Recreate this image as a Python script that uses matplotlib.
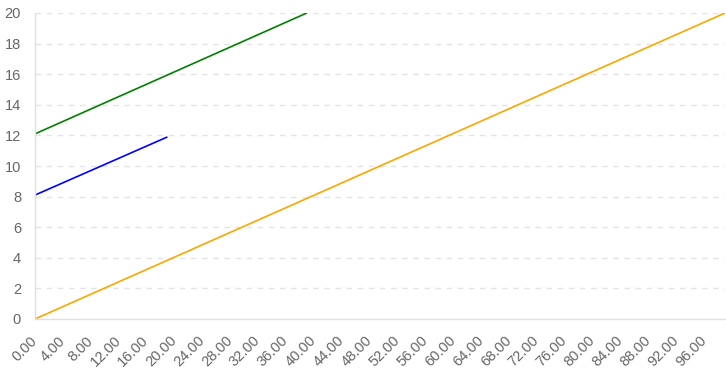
import matplotlib
matplotlib.use("Agg")
import matplotlib.pyplot as plt
import numpy as np

plt.rcParams['font.family'] = ['Liberation Sans', 'DejaVu Sans']

# Data (endpoints of the straight-line series)
orange_x = [0, 99]
orange_y = [0, 20]
green_x = [0, 39]
green_y = [12.1, 20]
blue_x = [0, 19]
blue_y = [8.1, 11.9]

x_ticks = list(range(0, 100, 4))
x_tick_labels = [f"{v:.2f}" for v in x_ticks]
y_ticks = list(range(0, 21, 2))

fig = plt.figure(figsize=(7.26, 3.77), dpi=100)
ax = fig.add_axes([35/726, 1 - 319/377, (725 - 35)/726, (319 - 13)/377])

ax.plot(orange_x, orange_y, color='orange', lw=1.2, solid_capstyle='butt')
ax.plot(green_x, green_y, color='green', lw=1.2, solid_capstyle='butt')
ax.plot(blue_x, blue_y, color='blue', lw=1.2, solid_capstyle='butt')

ax.set_xlim(0, 99)
ax.set_ylim(0, 20)
ax.set_xticks(x_ticks)
ax.set_xticklabels(x_tick_labels, rotation=45, ha='right', va='center',
                   rotation_mode='anchor')
ax.set_yticks(y_ticks)

for t in y_ticks[1:]:
    ax.axhline(t, color='#e4e4e4', lw=1, ls=(0, (4, 4)), zorder=0)

for s in ['top', 'right']:
    ax.spines[s].set_visible(False)
for s in ['left', 'bottom']:
    ax.spines[s].set_color('#e0e0e0')
    ax.spines[s].set_linewidth(1)

ax.tick_params(axis='both', length=0, colors='#666666', labelsize=10.5)
ax.tick_params(axis='y', pad=10)
ax.tick_params(axis='x', pad=14)

fig.savefig('out.png', dpi=100)
